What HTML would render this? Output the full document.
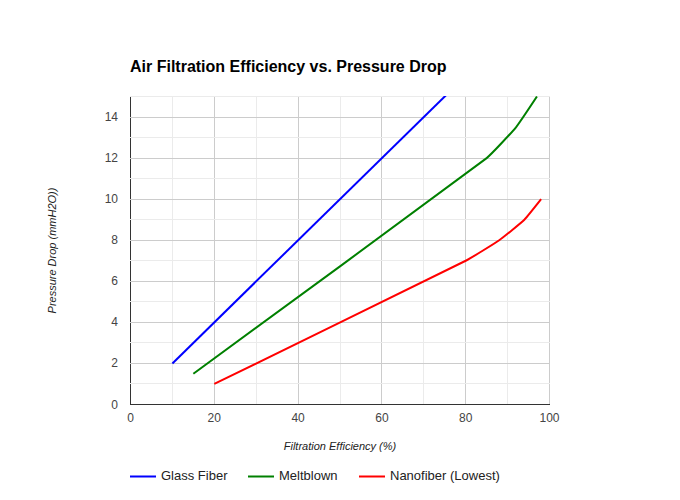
<!DOCTYPE html>
<html lang="en"><head><meta charset="utf-8"><title>Air Filtration Efficiency vs. Pressure Drop</title>
<style>
html,body{margin:0;padding:0;background:#ffffff;}
body{width:680px;height:500px;overflow:hidden;}
svg{display:block;font-family:"Liberation Sans",Arial,sans-serif;}
</style></head><body>
<svg width="680" height="500" viewBox="0 0 680 500">
<defs><clipPath id="ca"><rect x="130" y="96" width="420" height="309"/></clipPath></defs>
<rect x="0" y="0" width="680" height="500" fill="#ffffff"/>
<rect x="172" y="96" width="1" height="309" fill="#ebebeb"/>
<rect x="256" y="96" width="1" height="309" fill="#ebebeb"/>
<rect x="340" y="96" width="1" height="309" fill="#ebebeb"/>
<rect x="423" y="96" width="1" height="309" fill="#ebebeb"/>
<rect x="507" y="96" width="1" height="309" fill="#ebebeb"/>
<rect x="214" y="96" width="1" height="309" fill="#cccccc"/>
<rect x="298" y="96" width="1" height="309" fill="#cccccc"/>
<rect x="381" y="96" width="1" height="309" fill="#cccccc"/>
<rect x="465" y="96" width="1" height="309" fill="#cccccc"/>
<rect x="549" y="96" width="1" height="309" fill="#cccccc"/>
<rect x="130" y="96" width="1" height="309" fill="#333333"/>
<rect x="130" y="383" width="420" height="1" fill="#ebebeb"/>
<rect x="130" y="342" width="420" height="1" fill="#ebebeb"/>
<rect x="130" y="301" width="420" height="1" fill="#ebebeb"/>
<rect x="130" y="260" width="420" height="1" fill="#ebebeb"/>
<rect x="130" y="219" width="420" height="1" fill="#ebebeb"/>
<rect x="130" y="178" width="420" height="1" fill="#ebebeb"/>
<rect x="130" y="137" width="420" height="1" fill="#ebebeb"/>
<rect x="130" y="96" width="420" height="1" fill="#ebebeb"/>
<rect x="130" y="363" width="420" height="1" fill="#cccccc"/>
<rect x="130" y="322" width="420" height="1" fill="#cccccc"/>
<rect x="130" y="281" width="420" height="1" fill="#cccccc"/>
<rect x="130" y="240" width="420" height="1" fill="#cccccc"/>
<rect x="130" y="199" width="420" height="1" fill="#cccccc"/>
<rect x="130" y="158" width="420" height="1" fill="#cccccc"/>
<rect x="130" y="117" width="420" height="1" fill="#cccccc"/>
<rect x="130" y="404" width="420" height="1" fill="#333333"/>
<path d="M172.40,363.43C172.40,363.43,507.60,34.90,507.60,34.90" stroke="#0000ff" stroke-width="2" fill="none" clip-path="url(#ca)"/>
<path d="M193.35,373.70C193.35,373.70,448.13,187.52,486.65,158.10C491.15,154.66,512.41,131.68,515.98,127.30C519.11,123.47,536.93,96.50,536.93,96.50" stroke="#008000" stroke-width="2" fill="none" clip-path="url(#ca)"/>
<path d="M214.30,383.97C214.30,383.97,432.39,277.57,465.70,260.77C470.38,258.41,494.94,243.23,499.22,240.23C502.76,237.76,521.28,222.71,524.36,219.70C526.87,217.24,541.12,199.17,541.12,199.17" stroke="#ff0000" stroke-width="2" fill="none" clip-path="url(#ca)"/>
<text x="130.5" y="422.1" text-anchor="middle" font-size="12" fill="#444444">0</text>
<text x="214.3" y="422.1" text-anchor="middle" font-size="12" fill="#444444">20</text>
<text x="298.1" y="422.1" text-anchor="middle" font-size="12" fill="#444444">40</text>
<text x="381.9" y="422.1" text-anchor="middle" font-size="12" fill="#444444">60</text>
<text x="465.7" y="422.1" text-anchor="middle" font-size="12" fill="#444444">80</text>
<text x="549.5" y="422.1" text-anchor="middle" font-size="12" fill="#444444">100</text>
<text x="118" y="408.7" text-anchor="end" font-size="12" fill="#444444">0</text>
<text x="118" y="367.4" text-anchor="end" font-size="12" fill="#444444">2</text>
<text x="118" y="326.4" text-anchor="end" font-size="12" fill="#444444">4</text>
<text x="118" y="285.4" text-anchor="end" font-size="12" fill="#444444">6</text>
<text x="118" y="244.4" text-anchor="end" font-size="12" fill="#444444">8</text>
<text x="118" y="203.4" text-anchor="end" font-size="12" fill="#444444">10</text>
<text x="118" y="162.3" text-anchor="end" font-size="12" fill="#444444">12</text>
<text x="118" y="121.2" text-anchor="end" font-size="12" fill="#444444">14</text>
<text x="130" y="71.8" font-size="16" font-weight="bold" fill="#000000">Air Filtration Efficiency vs. Pressure Drop</text>
<text x="340" y="449.85" text-anchor="middle" font-size="11" font-style="italic" fill="#222222">Filtration Efficiency (%)</text>
<text x="0" y="0" transform="translate(55.85 250.5) rotate(-90)" text-anchor="middle" font-size="11" font-style="italic" fill="#222222">Pressure Drop (mmH2O))</text>
<path d="M130,476.5L156,476.5" stroke="#0000ff" stroke-width="2" fill="none"/>
<text x="161" y="479.5" font-size="13" fill="#222222">Glass Fiber</text>
<path d="M248,476.5L274,476.5" stroke="#008000" stroke-width="2" fill="none"/>
<text x="279" y="479.5" font-size="13" fill="#222222">Meltblown</text>
<path d="M359,476.5L385,476.5" stroke="#ff0000" stroke-width="2" fill="none"/>
<text x="390" y="479.5" font-size="13" fill="#222222">Nanofiber (Lowest)</text>
</svg>
</body></html>
